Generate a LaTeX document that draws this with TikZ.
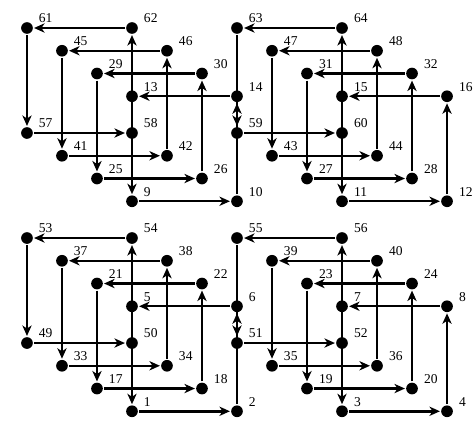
\documentclass[tikz,border=0pt]{standalone}
\usepackage{fontspec}
\setmainfont{Liberation Serif}
\usepackage{tikz}
\usetikzlibrary{arrows.meta}

\begin{document}
\begin{tikzpicture}[line width=2pt, >={Stealth[length=8.5pt, width=7.5pt, inset=2.5pt]},
  num/.style={anchor=south west, inner sep=0pt, label distance=3pt, yshift=3pt, font=\fontsize{11}{13}\selectfont},
  dot/.style={shape=circle, fill, inner sep=0pt, minimum size=9.5pt, label={[num]0:#1}}]
\useasboundingbox (-0.771,0.8) rectangle (12.771,-11.343);

\node (n61) at (0,0) [dot=61] {};
\node (n62) at (3,0) [dot=62] {};
\node (n57) at (0,-3) [dot=57] {};
\node (n58) at (3,-3) [dot=58] {};
\node (n45) at (1,-0.65) [dot=45] {};
\node (n46) at (4,-0.65) [dot=46] {};
\node (n41) at (1,-3.65) [dot=41] {};
\node (n42) at (4,-3.65) [dot=42] {};
\node (n29) at (2,-1.3) [dot=29] {};
\node (n30) at (5,-1.3) [dot=30] {};
\node (n25) at (2,-4.3) [dot=25] {};
\node (n26) at (5,-4.3) [dot=26] {};
\node (n13) at (3,-1.95) [dot=13] {};
\node (n14) at (6,-1.95) [dot=14] {};
\node (n9) at (3,-4.95) [dot=9] {};
\node (n10) at (6,-4.95) [dot=10] {};

\node (n63) at (6,0) [dot=63] {};
\node (n64) at (9,0) [dot=64] {};
\node (n59) at (6,-3) [dot=59] {};
\node (n60) at (9,-3) [dot=60] {};
\node (n47) at (7,-0.65) [dot=47] {};
\node (n48) at (10,-0.65) [dot=48] {};
\node (n43) at (7,-3.65) [dot=43] {};
\node (n44) at (10,-3.65) [dot=44] {};
\node (n31) at (8,-1.3) [dot=31] {};
\node (n32) at (11,-1.3) [dot=32] {};
\node (n27) at (8,-4.3) [dot=27] {};
\node (n28) at (11,-4.3) [dot=28] {};
\node (n15) at (9,-1.95) [dot=15] {};
\node (n16) at (12,-1.95) [dot=16] {};
\node (n11) at (9,-4.95) [dot=11] {};
\node (n12) at (12,-4.95) [dot=12] {};

\node (n53) at (0,-6) [dot=53] {};
\node (n54) at (3,-6) [dot=54] {};
\node (n49) at (0,-9) [dot=49] {};
\node (n50) at (3,-9) [dot=50] {};
\node (n37) at (1,-6.65) [dot=37] {};
\node (n38) at (4,-6.65) [dot=38] {};
\node (n33) at (1,-9.65) [dot=33] {};
\node (n34) at (4,-9.65) [dot=34] {};
\node (n21) at (2,-7.3) [dot=21] {};
\node (n22) at (5,-7.3) [dot=22] {};
\node (n17) at (2,-10.3) [dot=17] {};
\node (n18) at (5,-10.3) [dot=18] {};
\node (n5) at (3,-7.95) [dot=5] {};
\node (n6) at (6,-7.95) [dot=6] {};
\node (n1) at (3,-10.95) [dot=1] {};
\node (n2) at (6,-10.95) [dot=2] {};

\node (n55) at (6,-6) [dot=55] {};
\node (n56) at (9,-6) [dot=56] {};
\node (n51) at (6,-9) [dot=51] {};
\node (n52) at (9,-9) [dot=52] {};
\node (n39) at (7,-6.65) [dot=39] {};
\node (n40) at (10,-6.65) [dot=40] {};
\node (n35) at (7,-9.65) [dot=35] {};
\node (n36) at (10,-9.65) [dot=36] {};
\node (n23) at (8,-7.3) [dot=23] {};
\node (n24) at (11,-7.3) [dot=24] {};
\node (n19) at (8,-10.3) [dot=19] {};
\node (n20) at (11,-10.3) [dot=20] {};
\node (n7) at (9,-7.95) [dot=7] {};
\node (n8) at (12,-7.95) [dot=8] {};
\node (n3) at (9,-10.95) [dot=3] {};
\node (n4) at (12,-10.95) [dot=4] {};

\draw [->] (n62) -- (n61);  \draw [->] (n61) -- (n57);  \draw [->] (n57) -- (n58);  \draw [->] (n58) -- (n62);
\draw [->] (n46) -- (n45);  \draw [->] (n45) -- (n41);  \draw [->] (n41) -- (n42);  \draw [->] (n42) -- (n46);
\draw [->] (n30) -- (n29);  \draw [->] (n29) -- (n25);  \draw [->] (n25) -- (n26);  \draw [->] (n26) -- (n30);
\draw [->] (n14) -- (n13);  \draw [->] (n13) -- (n9);   \draw [->] (n9) -- (n10);   \draw [->] (n10) -- (n14);

\draw [->] (n64) -- (n63);  \draw [->] (n63) -- (n59);  \draw [->] (n59) -- (n60);  \draw [->] (n60) -- (n64);
\draw [->] (n48) -- (n47);  \draw [->] (n47) -- (n43);  \draw [->] (n43) -- (n44);  \draw [->] (n44) -- (n48);
\draw [->] (n32) -- (n31);  \draw [->] (n31) -- (n27);  \draw [->] (n27) -- (n28);  \draw [->] (n28) -- (n32);
\draw [->] (n16) -- (n15);  \draw [->] (n15) -- (n11);  \draw [->] (n11) -- (n12);  \draw [->] (n12) -- (n16);

\draw [->] (n54) -- (n53);  \draw [->] (n53) -- (n49);  \draw [->] (n49) -- (n50);  \draw [->] (n50) -- (n54);
\draw [->] (n38) -- (n37);  \draw [->] (n37) -- (n33);  \draw [->] (n33) -- (n34);  \draw [->] (n34) -- (n38);
\draw [->] (n22) -- (n21);  \draw [->] (n21) -- (n17);  \draw [->] (n17) -- (n18);  \draw [->] (n18) -- (n22);
\draw [->] (n6) -- (n5);    \draw [->] (n5) -- (n1);    \draw [->] (n1) -- (n2);    \draw [->] (n2) -- (n6);

\draw [->] (n56) -- (n55);  \draw [->] (n55) -- (n51);  \draw [->] (n51) -- (n52);  \draw [->] (n52) -- (n56);
\draw [->] (n40) -- (n39);  \draw [->] (n39) -- (n35);  \draw [->] (n35) -- (n36);  \draw [->] (n36) -- (n40);
\draw [->] (n24) -- (n23);  \draw [->] (n23) -- (n19);  \draw [->] (n19) -- (n20);  \draw [->] (n20) -- (n24);
\draw [->] (n8) -- (n7);    \draw [->] (n7) -- (n3);    \draw [->] (n3) -- (n4);    \draw [->] (n4) -- (n8);
\end{tikzpicture}
\end{document}
